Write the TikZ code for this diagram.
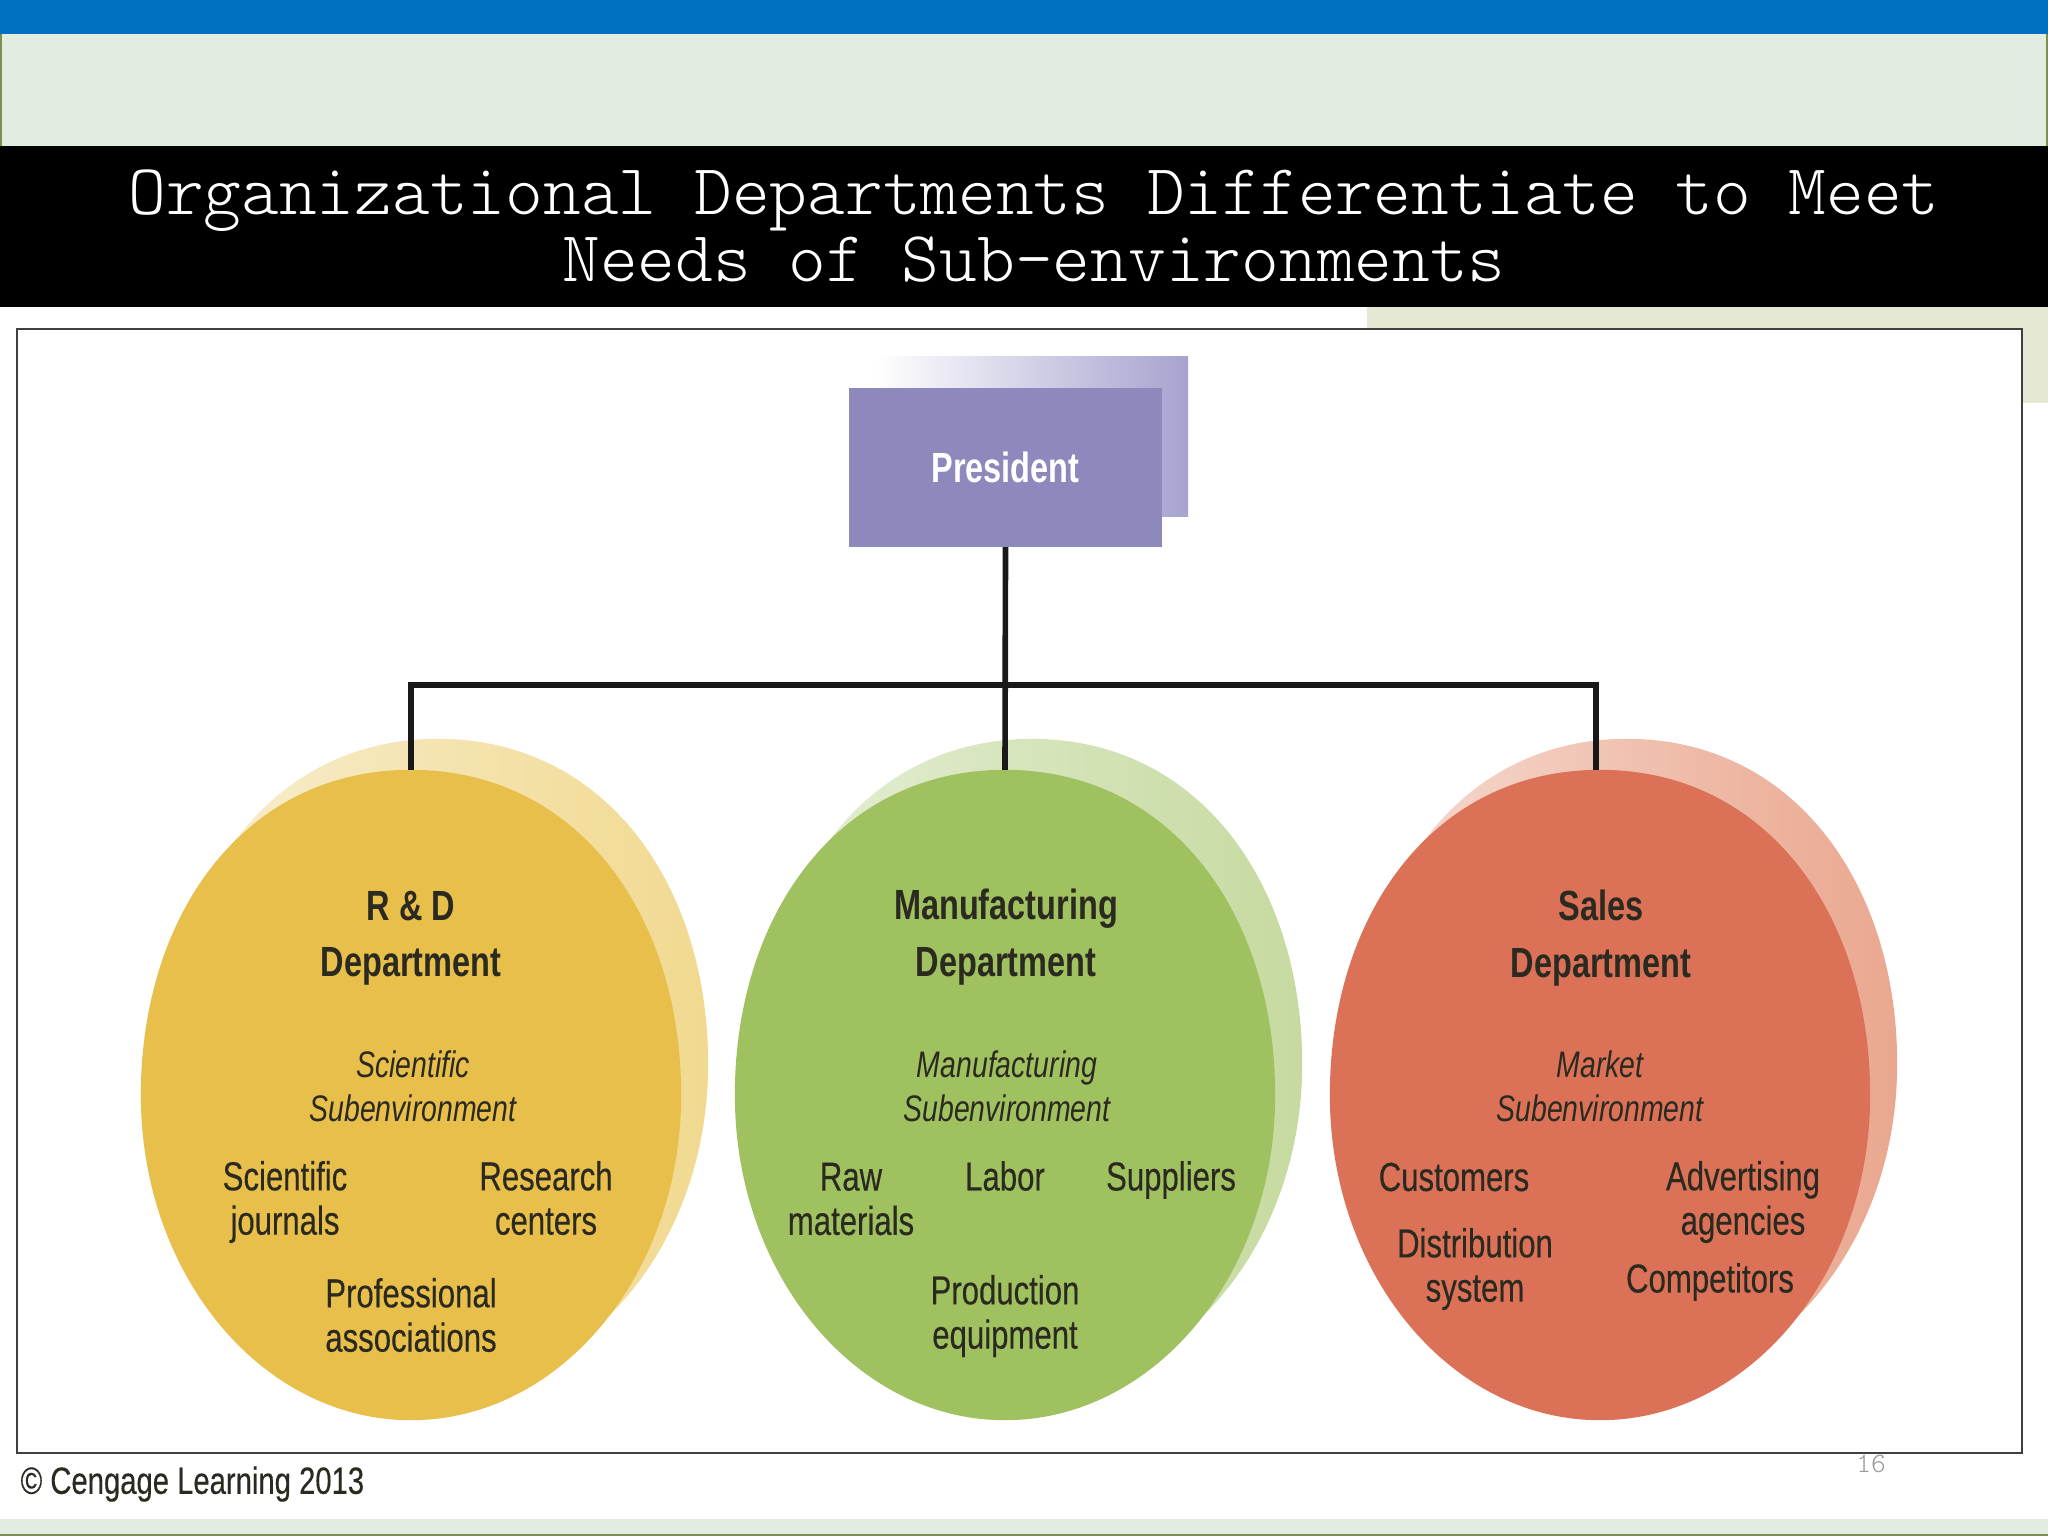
\documentclass[tikz,border=0pt]{standalone}
\usepackage{fontspec}
\usepackage{xcolor}
\usepackage{tikz}
\usetikzlibrary{positioning}
\usetikzlibrary{shapes.geometric}

\newfontfamily\narrowfont[FakeStretch=0.77, UprightFeatures={FakeBold=0.25}]{Liberation Sans}
\newfontfamily\thinmono{Latin Modern Mono Light}

\definecolor{slideblue}{HTML}{0070C0}
\definecolor{slidepale}{HTML}{E2ECE1}
\definecolor{slideolive}{HTML}{7C8F4E}
\definecolor{slidebeige}{HTML}{E5E8D3}
\definecolor{bosspurple}{HTML}{8D89BC}
\definecolor{bossback}{HTML}{A6A3CF}
\definecolor{rdyellow}{HTML}{E8BF4B}
\definecolor{rdback}{HTML}{F1D98F}
\definecolor{rdfade}{HTML}{F8EFD2}
\definecolor{mfggreen}{HTML}{9FC160}
\definecolor{mfgback}{HTML}{C6DAA0}
\definecolor{mfgfade}{HTML}{E6EFD6}
\definecolor{salesred}{HTML}{DB7257}
\definecolor{salesback}{HTML}{EAA78F}
\definecolor{salesfade}{HTML}{F6DCD2}
\definecolor{inkdark}{HTML}{2B2A20}

% outline of a department oval, fuller above than below
\newcommand{\eggpath}[1]{(#1.west) .. controls +(0,-180) and +(-167,0) .. (#1.north) .. controls +(167,0) and +(0,-180) .. (#1.east) .. controls +(0,180) and +(149,0) .. (#1.south) .. controls +(-149,0) and +(0,180) .. (#1.west) -- cycle}

\begin{document}
\begin{tikzpicture}[x=0.01cm, y=-0.01cm,
  ovalnode/.style={ellipse, inner sep=0pt, outer sep=0pt, minimum width=5.4cm, minimum height=6.5cm},
  bossnode/.style={rectangle, inner sep=0pt, outer sep=0pt, minimum width=3.13cm, minimum height=1.59cm},
  headtext/.style={align=center, inner sep=0pt, text=inkdark, font=\narrowfont\bfseries\fontsize{12}{16}\selectfont},
  envtext/.style={align=center, inner sep=0pt, text=inkdark, font=\narrowfont\itshape\fontsize{10.5}{12.6}\selectfont},
  itemtext/.style={align=center, inner sep=0pt, text=inkdark, font=\narrowfont\fontsize{11.5}{12.6}\selectfont},
  busline/.style={line width=1.6pt, draw=black!90}]
\useasboundingbox (0,0) rectangle (2048,1536);

% slide bands
\fill[white] (0,0) rectangle (2048,1536);
\fill[slideblue] (0,0) rectangle (2048,34);
\fill[slidepale] (0,34) rectangle (2048,146);
\fill[slideolive] (0,34) rectangle (2,146);
\fill[slideolive] (2046,34) rectangle (2048,146);
\fill[black] (0,146) rectangle (2048,307);
\fill[slidebeige] (1367,307) rectangle (2048,330);
\fill[slidebeige] (2022,307) rectangle (2048,403);
\fill[slidepale] (0,1519) rectangle (2048,1536);
\fill[slideolive] (0,1534) rectangle (2048,1536);
\draw[line width=0.8pt, draw=black!75, fill=white] (17,329) rectangle (2022,1453);

\node[align=center, inner sep=0pt, text=white, font=\thinmono\fontsize{20.44}{19}\selectfont] at (1034,226) (slidetitle) {Organizational Departments Differentiate to Meet\\Needs of Sub-environments};

% president
\node[bossnode, left color=white, right color=bossback] at (1031.5,436.5) (bossshadow) {};
\node[bossnode, fill=bosspurple, text=white, font=\narrowfont\bfseries\fontsize{12}{14}\selectfont] at (1005.5,467.5) (boss) {President};

% departments
\node[ovalnode] at (438,1064) (rdshadow) {};
\node[ovalnode] at (411,1095) (rd) {};
\node[ovalnode] at (1032,1064) (mfgshadow) {};
\node[ovalnode] at (1005,1095) (mfg) {};
\node[ovalnode] at (1627,1064) (salesshadow) {};
\node[ovalnode] at (1600,1095) (sales) {};
\shade[left color=rdfade, right color=rdback] \eggpath{rdshadow};
\fill[rdyellow] \eggpath{rd};
\shade[left color=mfgfade, right color=mfgback] \eggpath{mfgshadow};
\fill[mfggreen] \eggpath{mfg};
\shade[left color=salesfade, right color=salesback] \eggpath{salesshadow};
\fill[salesred] \eggpath{sales};

\coordinate (bus) at (1005,685);
\draw[busline] (boss.south) -- (mfg.north);
\draw[busline] (rd.north) |- (bus) -| ([xshift=-0.04cm]sales.north);

\node[headtext] at (411,938) (rdhead) {R \& D\\Department};
\node[envtext] at (413,1086) (rdenv) {Scientific\\Subenvironment};
\node[itemtext] at (285,1202) (journals) {Scientific\\journals};
\node[itemtext] at (546,1198) (centers) {Research\\centers};
\node[itemtext] at (411,1315) (associations) {Professional\\associations};

\node[headtext] at (1006,937) (mfghead) {Manufacturing\\Department};
\node[envtext] at (1007,1086) (mfgenv) {Manufacturing\\Subenvironment};
\node[itemtext] at (851,1199) (materials) {Raw\\materials};
\node[itemtext] at (1005,1176) (labor) {Labor};
\node[itemtext] at (1171,1180) (suppliers) {Suppliers};
\node[itemtext] at (1005,1316) (equipment) {Production\\equipment};

\node[headtext] at (1601,938) (saleshead) {Sales\\Department};
\node[envtext] at (1600,1086) (salesenv) {Market\\Subenvironment};
\node[itemtext] at (1454,1177) (customers) {Customers};
\node[itemtext] at (1743,1202) (agencies) {Advertising\\agencies};
\node[itemtext] at (1475,1269) (distribution) {Distribution\\system};
\node[itemtext] at (1710,1282) (competitors) {Competitors};

% footer
\node[anchor=west, inner sep=0pt, text=inkdark, font=\narrowfont\fontsize{10.8}{13}\selectfont] at (20,1484) (credit) {© Cengage Learning 2013};
\node[inner sep=0pt, text=black!40, font=\thinmono\fontsize{8}{9}\selectfont] at (1871,1464) (pagenum) {16};

\end{tikzpicture}
\end{document}
